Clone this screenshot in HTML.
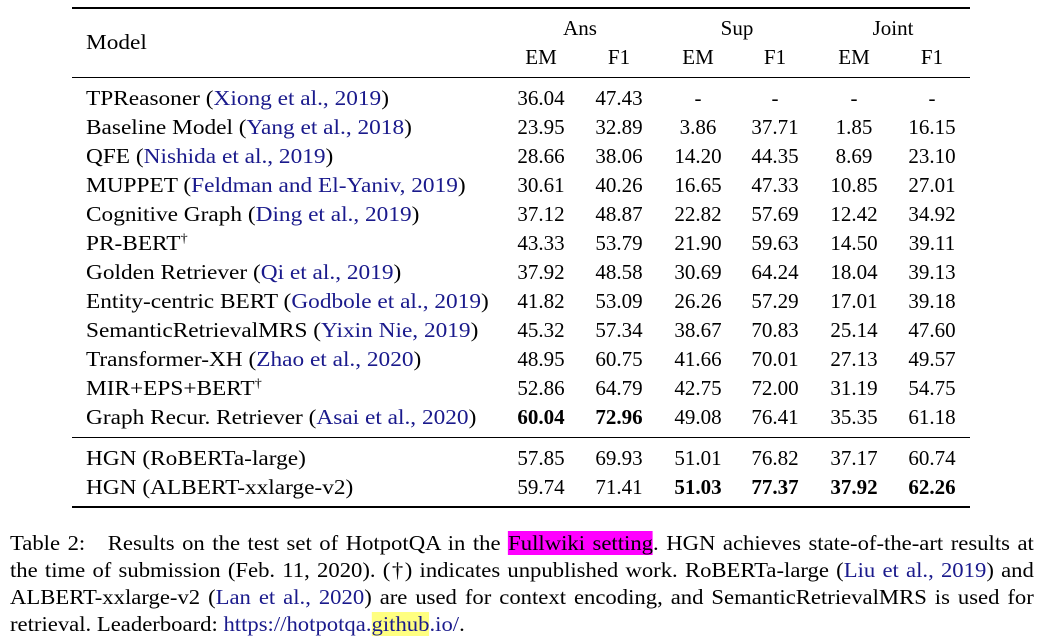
<!DOCTYPE html>
<html><head><meta charset="utf-8"><style>
body{margin:0;background:#fff;width:1044px;height:638px;overflow:hidden;position:relative;font-family:"Liberation Serif",serif;font-size:21px;color:#000}
.r{position:absolute;left:0;width:1044px;height:29px;line-height:29px}
.m{position:absolute;left:86px;white-space:nowrap;transform:scaleX(1.11);transform-origin:left center}
.c{position:absolute;width:80px;text-align:center}
.c1{left:501px}.c2{left:579px}.c3{left:658px}.c4{left:735px}.c5{left:814px}.c6{left:892px}
.b{color:#1a1a8c}
.rule{position:absolute;left:72px;width:898px;background:#000}
.cap{position:absolute;left:10px;width:948px;line-height:27px;text-align:justify;text-align-last:justify;white-space:nowrap;transform:scaleX(1.08);transform-origin:left center}
.hl{background:#ff00ff}.hy{background:#ffff80}
sup{font-size:13px;line-height:0}
</style></head><body>
<div class="rule" style="top:7px;height:2px"></div>
<div class="rule" style="top:77px;height:1px"></div>
<div class="rule" style="top:437px;height:1px"></div>
<div class="rule" style="top:506px;height:2px"></div>
<div class="r" style="top:28px"><span class="m">Model</span></div>
<div class="r" style="top:14px"><span class="c" style="left:540px">Ans</span><span class="c" style="left:697px">Sup</span><span class="c" style="left:853px">Joint</span></div>
<div class="r" style="top:43px"><span class="c c1">EM</span><span class="c c2">F1</span><span class="c c3">EM</span><span class="c c4">F1</span><span class="c c5">EM</span><span class="c c6">F1</span></div>

<div class="r" style="top:84px"><span class="m">TPReasoner (<span class="b">Xiong et al., 2019</span>)</span><span class="c c1">36.04</span><span class="c c2">47.43</span><span class="c c3">-</span><span class="c c4">-</span><span class="c c5">-</span><span class="c c6">-</span></div>
<div class="r" style="top:113px"><span class="m">Baseline Model (<span class="b">Yang et al., 2018</span>)</span><span class="c c1">23.95</span><span class="c c2">32.89</span><span class="c c3">3.86</span><span class="c c4">37.71</span><span class="c c5">1.85</span><span class="c c6">16.15</span></div>
<div class="r" style="top:142px"><span class="m">QFE (<span class="b">Nishida et al., 2019</span>)</span><span class="c c1">28.66</span><span class="c c2">38.06</span><span class="c c3">14.20</span><span class="c c4">44.35</span><span class="c c5">8.69</span><span class="c c6">23.10</span></div>
<div class="r" style="top:171px"><span class="m">MUPPET (<span class="b">Feldman and El-Yaniv, 2019</span>)</span><span class="c c1">30.61</span><span class="c c2">40.26</span><span class="c c3">16.65</span><span class="c c4">47.33</span><span class="c c5">10.85</span><span class="c c6">27.01</span></div>
<div class="r" style="top:200px"><span class="m">Cognitive Graph (<span class="b">Ding et al., 2019</span>)</span><span class="c c1">37.12</span><span class="c c2">48.87</span><span class="c c3">22.82</span><span class="c c4">57.69</span><span class="c c5">12.42</span><span class="c c6">34.92</span></div>
<div class="r" style="top:229px"><span class="m">PR-BERT<sup>†</sup></span><span class="c c1">43.33</span><span class="c c2">53.79</span><span class="c c3">21.90</span><span class="c c4">59.63</span><span class="c c5">14.50</span><span class="c c6">39.11</span></div>
<div class="r" style="top:258px"><span class="m">Golden Retriever (<span class="b">Qi et al., 2019</span>)</span><span class="c c1">37.92</span><span class="c c2">48.58</span><span class="c c3">30.69</span><span class="c c4">64.24</span><span class="c c5">18.04</span><span class="c c6">39.13</span></div>
<div class="r" style="top:287px"><span class="m">Entity-centric BERT (<span class="b">Godbole et al., 2019</span>)</span><span class="c c1">41.82</span><span class="c c2">53.09</span><span class="c c3">26.26</span><span class="c c4">57.29</span><span class="c c5">17.01</span><span class="c c6">39.18</span></div>
<div class="r" style="top:316px"><span class="m">SemanticRetrievalMRS (<span class="b">Yixin Nie, 2019</span>)</span><span class="c c1">45.32</span><span class="c c2">57.34</span><span class="c c3">38.67</span><span class="c c4">70.83</span><span class="c c5">25.14</span><span class="c c6">47.60</span></div>
<div class="r" style="top:345px"><span class="m">Transformer-XH (<span class="b">Zhao et al., 2020</span>)</span><span class="c c1">48.95</span><span class="c c2">60.75</span><span class="c c3">41.66</span><span class="c c4">70.01</span><span class="c c5">27.13</span><span class="c c6">49.57</span></div>
<div class="r" style="top:374px"><span class="m">MIR+EPS+BERT<sup>†</sup></span><span class="c c1">52.86</span><span class="c c2">64.79</span><span class="c c3">42.75</span><span class="c c4">72.00</span><span class="c c5">31.19</span><span class="c c6">54.75</span></div>
<div class="r" style="top:403px"><span class="m">Graph Recur. Retriever (<span class="b">Asai et al., 2020</span>)</span><span class="c c1"><b>60.04</b></span><span class="c c2"><b>72.96</b></span><span class="c c3">49.08</span><span class="c c4">76.41</span><span class="c c5">35.35</span><span class="c c6">61.18</span></div>
<div class="r" style="top:444px"><span class="m">HGN (RoBERTa-large)</span><span class="c c1">57.85</span><span class="c c2">69.93</span><span class="c c3">51.01</span><span class="c c4">76.82</span><span class="c c5">37.17</span><span class="c c6">60.74</span></div>
<div class="r" style="top:473px"><span class="m">HGN (ALBERT-xxlarge-v2)</span><span class="c c1">59.74</span><span class="c c2">71.41</span><span class="c c3"><b>51.03</b></span><span class="c c4"><b>77.37</b></span><span class="c c5"><b>37.92</b></span><span class="c c6"><b>62.26</b></span></div>

<div class="cap" style="top:530px">Table 2:&nbsp;&nbsp; Results on the test set of HotpotQA in the <span class="hl">Fullwiki setting</span>. HGN achieves state-of-the-art results at</div>
<div class="cap" style="top:557px">the time of submission (Feb. 11, 2020). (†) indicates unpublished work. RoBERTa-large (<span class="b">Liu et al., 2019</span>) and</div>
<div class="cap" style="top:584px">ALBERT-xxlarge-v2 (<span class="b">Lan et al., 2020</span>) are used for context encoding, and SemanticRetrievalMRS is used for</div>
<div class="cap" style="top:611px;text-align-last:left">retrieval. Leaderboard: <span class="b">https://hotpotqa.<span class="hy">github</span>.io/</span>.</div>
</body></html>
